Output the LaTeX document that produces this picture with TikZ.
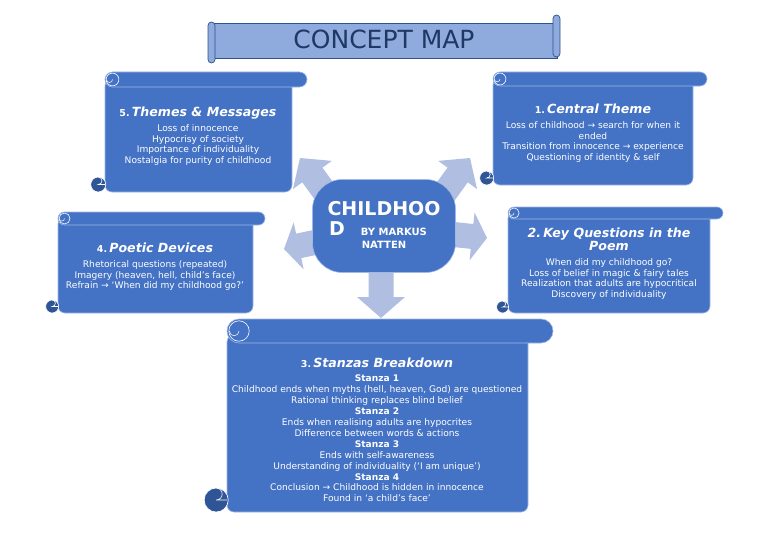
\documentclass[tikz,border=0pt]{standalone}
\usepackage{fontspec}
\setmainfont{DejaVu Sans}
\usepackage{tikz}
\definecolor{boxblue}{RGB}{68,114,196}
\definecolor{curlblue}{RGB}{47,85,151}
\definecolor{edgeblue}{RGB}{160,184,228}
\definecolor{arrowgray}{RGB}{176,190,226}
\definecolor{bannerfill}{RGB}{143,170,220}
\definecolor{bannerline}{RGB}{47,82,143}
\definecolor{titlenavy}{RGB}{32,56,100}

\begin{document}
\begin{tikzpicture}[x=1pt,y=-1pt,
  scrollpart/.style={fill=boxblue,draw=edgeblue,line width=0.6pt},
  curl/.style={fill=curlblue,draw=white,line width=0.6pt},
  blockarrow/.style={fill=arrowgray},
  boxtitle/.style={text=white,align=center,inner sep=0pt,font=\fontsize{12.6}{13}\selectfont\bfseries\itshape},
  boxtext/.style={text=white,align=center,inner sep=0pt,anchor=north,font=\fontsize{9.1}{10.9}\selectfont},
  hub/.style={fill=boxblue,draw=edgeblue,line width=0.6pt,rounded corners=30pt,minimum width=143pt,minimum height=93pt},
  hubtext/.style={text=white,inner sep=0pt,anchor=base}]
\newcommand{\scrollbox}[6]{%
  \pgfmathsetmacro{\rr}{(#3-#2)/2}
  \filldraw[scrollpart,rounded corners=7pt] (#1,#3-8) rectangle (#4,#6);
  \filldraw[scrollpart,rounded corners=\rr pt] (#1,#2) rectangle (#5,#3);
  \draw[white,line width=0.6pt] (#1+\rr,#2+\rr) circle (\rr*0.85);
  \draw[white,line width=0.5pt] (#1+\rr,#2+\rr) arc[start angle=0,end angle=180,radius=\rr*0.4];
  \filldraw[curl] (#1-\rr*0.9,#6-\rr) circle (\rr);
  \draw[white,line width=0.6pt] (#1-\rr*0.9,#6-2*\rr) arc[start angle=-90,end angle=90,radius=\rr/2] -- (#1,#6-\rr);}
\newcommand{\bigarrow}[4]{\fill[blockarrow,shift={(#1,#2)},rotate=#3] (0,0) -- (-#4,24) -- (-#4,12.5) -- (-80,12.5) -- (-80,-12.5) -- (-#4,-12.5) -- (-#4,-24) -- cycle;}
\newcommand{\num}[1]{{\fontsize{9.5}{10}\selectfont\upshape #1}\,}
\useasboundingbox (0,0) rectangle (768,543);

% banner
\filldraw[fill=bannerfill,draw=bannerline,line width=0.7pt] (212,23) rectangle (557,58);
\filldraw[fill=bannerfill,draw=bannerline,line width=0.7pt,rounded corners=3.5pt] (208,22) rectangle (215,63);
\filldraw[fill=bannerfill,draw=bannerline,line width=0.7pt,rounded corners=3.5pt] (553,15) rectangle (560,57);
\node[text=titlenavy,font=\fontsize{25}{30}\selectfont] (maptitle) at (384,39) {CONCEPT MAP};

% arrows out of the hub
\bigarrow{300}{158}{126}{21}
\bigarrow{470}{158}{54}{21}
\bigarrow{284}{249}{192}{15}
\bigarrow{487}{238}{-6}{15}
\bigarrow{381}{318}{-90}{21}
\node[hub] (hub) at (384,226) {};
\node[hubtext,font=\fontsize{19}{20}\selectfont\bfseries] (hubline1) at (384,215) {CHILDHOO};
\node[hubtext,font=\fontsize{19}{20}\selectfont\bfseries] (hubline2) at (378,235) {D\hspace{16pt}{\fontsize{10}{12}\selectfont BY MARKUS}};
\node[hubtext,font=\fontsize{10}{12}\selectfont\bfseries] (hubline3) at (384,248) {NATTEN};

% 5
\scrollbox{105}{72}{87}{292}{307}{192}
\node[boxtitle] (title5) at (198,113) {\num{5.}Themes \& Messages};
\node[boxtext] (text5) at (198,124) {Loss of innocence\\Hypocrisy of society\\Importance of individuality\\Nostalgia for purity of childhood};
% 1
\scrollbox{493}{72}{86}{693}{707}{185}
\node[boxtitle] (title1) at (593,109) {\num{1.}Central Theme};
\node[boxtext] (text1) at (593,121) {Loss of childhood → search for when it\\ended\\Transition from innocence → experience\\Questioning of identity \& self};
% 4
\scrollbox{58}{212}{225}{253}{265}{313}
\node[boxtitle] (title4) at (155,248) {\num{4.}Poetic Devices};
\node[boxtext] (text4) at (155,260) {Rhetorical questions (repeated)\\Imagery (heaven, hell, child’s face)\\Refrain → ‘When did my childhood go?’};
% 2
\scrollbox{508}{207}{219}{710}{723}{313}
\node[boxtitle] (title2) at (609,239) {2.\,Key Questions in the\\Poem};
\node[boxtext] (text2) at (609,258) {When did my childhood go?\\Loss of belief in magic \& fairy tales\\Realization that adults are hypocritical\\Discovery of individuality};
% 3
\scrollbox{227}{319}{343}{528}{553}{512}
\node[boxtitle] (title3) at (377,363) {\num{3.}Stanzas Breakdown};
\node[boxtext] (text3) at (377,375) {{\bfseries Stanza 1}\\Childhood ends when myths (hell, heaven, God) are questioned\\Rational thinking replaces blind belief\\{\bfseries Stanza 2}\\Ends when realising adults are hypocrites\\Difference between words \& actions\\{\bfseries Stanza 3}\\Ends with self-awareness\\Understanding of individuality (‘I am unique’)\\{\bfseries Stanza 4}\\Conclusion → Childhood is hidden in innocence\\Found in ‘a child’s face’};
\end{tikzpicture}
\end{document}
